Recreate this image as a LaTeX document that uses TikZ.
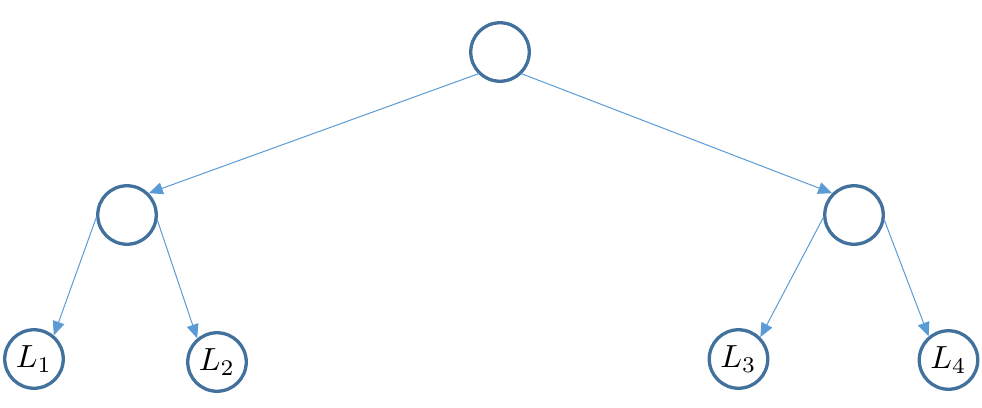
\documentclass[tikz,border=0pt]{standalone}
\usetikzlibrary{arrows.meta}
\definecolor{ringblue}{HTML}{41719C}
\definecolor{edgeblue}{HTML}{5B9BD5}
\newcommand{\leaflabel}[1]{\scalebox{3.2}{$L_{#1}$}}
\begin{document}
\begin{tikzpicture}[x=1pt,y=-1pt,
  treenode/.style={circle,draw=ringblue,line width=3.3pt,minimum size=58.5pt,inner sep=0pt},
  edge/.style={draw=edgeblue,line width=1pt,-{Triangle[length=14pt,width=12pt]},shorten <=-1pt}]
\useasboundingbox (0,0) rectangle (982,407);
\node[treenode] (root) at (500,52) {};
\node[treenode] (lm) at (127,215) {};
\node[treenode] (rm) at (854,215) {};
\node[treenode] (l1) at (34,359) {\leaflabel{1}};
\node[treenode] (l2) at (217,362) {\leaflabel{2}};
\node[treenode] (l3) at (738.5,359) {\leaflabel{3}};
\node[treenode] (l4) at (948.5,360) {\leaflabel{4}};
\draw[edge] (root.225) -- (lm.45);
\draw[edge] (root.-45) -- (rm.135);
\draw[edge] (lm.185) -- (l1.50);
\draw[edge] (lm.-10) -- (l2.130);
\draw[edge] (rm.185) -- (l3.45);
\draw[edge] (rm.-10) -- (l4.130);
\end{tikzpicture}
\end{document}
